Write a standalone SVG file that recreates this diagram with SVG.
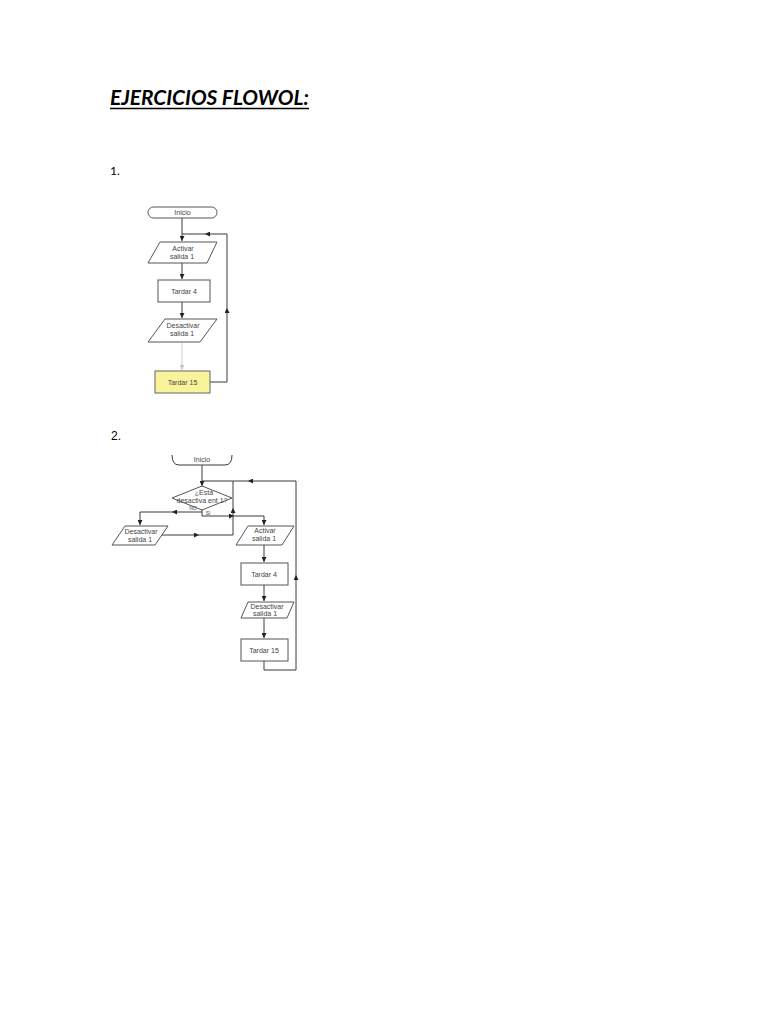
<svg xmlns="http://www.w3.org/2000/svg" width="768" height="1024" viewBox="0 0 768 1024">
<style>
.ln{fill:none;stroke:#3a3a3a;stroke-width:1}
.sh{fill:#fff;stroke:#555;stroke-width:1}
.t{font-family:"Liberation Sans",Arial,sans-serif;font-size:7px;fill:#444;text-anchor:middle}
.s{font-family:"Liberation Sans",Arial,sans-serif;font-size:5px;fill:#444;text-anchor:middle}
</style>
<defs>
<marker id="a" viewBox="0 0 6 6" refX="6" refY="3" markerWidth="5" markerHeight="5" markerUnits="userSpaceOnUse" orient="auto"><path d="M0,0 L6,3 L0,6 z" fill="#222"/></marker>
<marker id="g" viewBox="0 0 6 6" refX="6" refY="3" markerWidth="5" markerHeight="5" markerUnits="userSpaceOnUse" orient="auto"><path d="M0,0 L6,3 L0,6 z" fill="#c8c8c8"/></marker>
</defs>
<rect width="768" height="1024" fill="#fff"/>
<g id="title">
<text x="110" y="105" font-family="Lato,'Open Sans',sans-serif" font-weight="bold" font-style="italic" font-size="20" textLength="199" lengthAdjust="spacingAndGlyphs" fill="#000">EJERCICIOS FLOWOL:</text>
<line x1="110" y1="108.5" x2="309" y2="108.5" stroke="#000" stroke-width="1.5"/>
</g>
<text id="n1" x="110" y="175" font-family="Lato,'Open Sans',sans-serif" font-size="12" fill="#000">1.</text>
<text id="n2" x="111" y="440" font-family="'Liberation Sans',Arial,sans-serif" font-size="12" fill="#000">2.</text>

<!-- Diagram 1 -->
<g id="d1-connectors">
<path class="ln" d="M182,218 V241" marker-end="url(#a)"/>
<path class="ln" d="M182,263 V279" marker-end="url(#a)"/>
<path class="ln" d="M182,302 V318" marker-end="url(#a)"/>
<path fill="none" stroke="#cfcfcf" d="M182,342 V370" marker-end="url(#g)"/>
<path class="ln" d="M210,382 H227 V308" marker-end="url(#a)"/>
<path class="ln" d="M227,308 V234 H205" marker-end="url(#a)"/>
<path class="ln" d="M205,234 H182"/>
</g>
<g id="d1-inicio"><rect class="sh" x="148" y="207" width="69" height="11" rx="5.5"/><text class="t" x="182.5" y="215">Inicio</text></g>
<g id="d1-activar"><polygon class="sh" points="160,242 217,242 207,263 148,263"/><text class="t" x="183" y="251">Activar</text><text class="t" x="182" y="259">salida 1</text></g>
<g id="d1-tardar4"><rect class="sh" x="158" y="280" width="52" height="22"/><text class="t" x="184" y="294">Tardar 4</text></g>
<g id="d1-desactivar"><polygon class="sh" points="165,319 217,319 200,342 148,342"/><text class="t" x="183" y="328">Desactivar</text><text class="t" x="182" y="336">salida 1</text></g>
<g id="d1-tardar15"><rect x="155" y="371" width="55" height="22" fill="#f9f49c" stroke="#666"/><text class="t" x="182.5" y="385">Tardar 15</text></g>

<!-- Diagram 2 -->
<g id="d2-connectors">
<path class="ln" d="M202,465 V486" marker-end="url(#a)"/>
<path class="ln" d="M202,509 V516"/>
<path class="ln" d="M202,512 H172" marker-end="url(#a)"/>
<path class="ln" d="M172,512 H140 V525" marker-end="url(#a)"/>
<path class="ln" d="M202,516 H234" marker-end="url(#a)"/>
<path class="ln" d="M234,516 H264 V525" marker-end="url(#a)"/>
<path class="ln" d="M162,535 H199" marker-end="url(#a)"/>
<path class="ln" d="M199,535 H233 V508" marker-end="url(#a)"/>
<path class="ln" d="M233,508 V481"/>
<path class="ln" d="M264,545 V562" marker-end="url(#a)"/>
<path class="ln" d="M264,585 V601" marker-end="url(#a)"/>
<path class="ln" d="M264,618 V638" marker-end="url(#a)"/>
<path class="ln" d="M264,661 V670 H296 V575" marker-end="url(#a)"/>
<path class="ln" d="M296,575 V481 H248" marker-end="url(#a)"/>
<path class="ln" d="M248,481 H202"/>
</g>
<g id="d2-inicio"><path class="ln" d="M172,455 Q172,465 179,465 H225 Q232,465 232,455"/><text class="t" x="202" y="462">Inicio</text></g>
<g id="d2-decision"><polygon class="sh" points="202,486 232,498 202,510 172,498"/><text class="t" x="204" y="495" font-size="6">¿Está</text><text class="t" x="202" y="503" font-size="6">desactiva ent 1?</text>
<text class="s" x="193" y="510">NO</text><text class="s" x="208" y="515">SI</text></g>
<g id="d2-desactivar1"><polygon class="sh" points="125,526 168,526 155,545 112,545"/><text class="t" x="141" y="534">Desactivar</text><text class="t" x="140" y="542">salida 1</text></g>
<g id="d2-activar"><polygon class="sh" points="248,526 294,526 282,545 236,545"/><text class="t" x="265" y="533">Activar</text><text class="t" x="264" y="541">salida 1</text></g>
<g id="d2-tardar4"><rect class="sh" x="241" y="563" width="47" height="22"/><text class="t" x="264" y="577">Tardar 4</text></g>
<g id="d2-desactivar2"><polygon class="sh" points="248,602 294,602 287,618 241,618"/><text class="t" x="267" y="609">Desactivar</text><text class="t" x="265" y="616">salida 1</text></g>
<g id="d2-tardar15"><rect class="sh" x="241" y="639" width="47" height="22"/><text class="t" x="264" y="653">Tardar 15</text></g>
</svg>
